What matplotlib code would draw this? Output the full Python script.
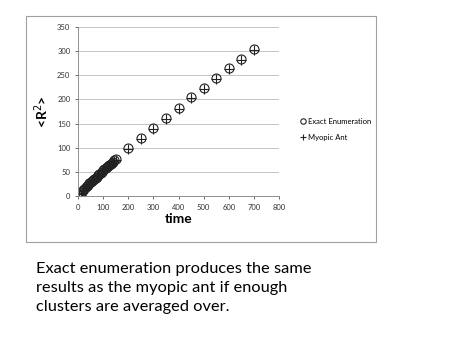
import matplotlib.pyplot as plt
from matplotlib.patches import Rectangle

# data
t_exact = [10, 15, 20, 25, 30, 35, 40, 45, 50, 55, 60, 65, 70, 75, 80, 85, 90, 95,
           100, 105, 110, 115, 120, 125, 130, 135, 140, 145, 150,
           200, 250, 300, 350, 400, 450, 500, 550, 600, 650, 700]
r2_exact = [6, 9, 12, 15, 18, 21, 23, 26, 28, 31, 33, 36, 38, 40, 43, 45, 48, 50,
            53, 55, 57, 60, 62, 64, 67, 69, 71, 74, 77,
            99, 120, 141, 162, 183, 204, 224, 245, 265, 284, 305]
t_ant = t_exact
r2_ant = [4, 7, 10, 13, 16, 19, 21, 24, 26, 29, 31, 34, 36, 38, 41, 43, 46, 48,
          51, 53, 55, 58, 60, 62, 65, 67, 69, 72, 75,
          97, 118, 139, 160, 181, 202, 222, 243, 263, 282, 303]

x_ticks = [0, 100, 200, 300, 400, 500, 600, 700, 800]
y_ticks = [0, 50, 100, 150, 200, 250, 300, 350]

fig = plt.figure(figsize=(4.74, 3.55), dpi=100)
plt.rcParams['font.family'] = ['Lato', 'DejaVu Sans']

# outer chart frame
fig.patches.append(Rectangle((0.0549, 0.318), 0.738, 0.637, transform=fig.transFigure,
                             fill=False, edgecolor="#a0a0a0", linewidth=0.8))

ax = fig.add_axes([0.1646, 0.448, 0.424, 0.476])
ax.plot(t_exact, r2_exact, linestyle="none", marker="o", markersize=6.5,
        markerfacecolor="none", markeredgecolor="#222222", markeredgewidth=0.8,
        label="Exact Enumeration")
ax.plot(t_ant, r2_ant, linestyle="none", marker="+", markersize=6.5,
        color="#222222", markeredgewidth=0.8, label="Myopic Ant")

ax.set_xlim(0, 800)
ax.set_ylim(0, 350)
ax.set_xticks(x_ticks)
ax.set_yticks(y_ticks)
ax.tick_params(labelsize=5.5, colors="#333333", length=2, width=0.5)
ax.grid(True, axis="y", color="#c4c4c4", linewidth=0.7)
ax.set_axisbelow(True)
for s in ["top", "right"]:
    ax.spines[s].set_visible(False)
for s in ["left", "bottom"]:
    ax.spines[s].set_color("#909090")
    ax.spines[s].set_linewidth(0.7)

ax.set_xlabel("time", fontsize=10, fontweight="bold", labelpad=2)
ax.set_ylabel("<R$^2$>", fontsize=10, fontweight="bold", labelpad=4)

ax.legend(loc="center left", bbox_to_anchor=(0.62, 0.635), bbox_transform=fig.transFigure,
          frameon=False, fontsize=5.5, handlelength=0.6, handletextpad=0.3,
          labelspacing=1.2, markerscale=0.6)

fig.text(0.076, 0.189, "Exact enumeration produces the same\nresults as the myopic ant if enough\nclusters are averaged over.",
         fontsize=11.8, va="center", ha="left", linespacing=1.45)

plt.savefig("out.png", dpi=100)
